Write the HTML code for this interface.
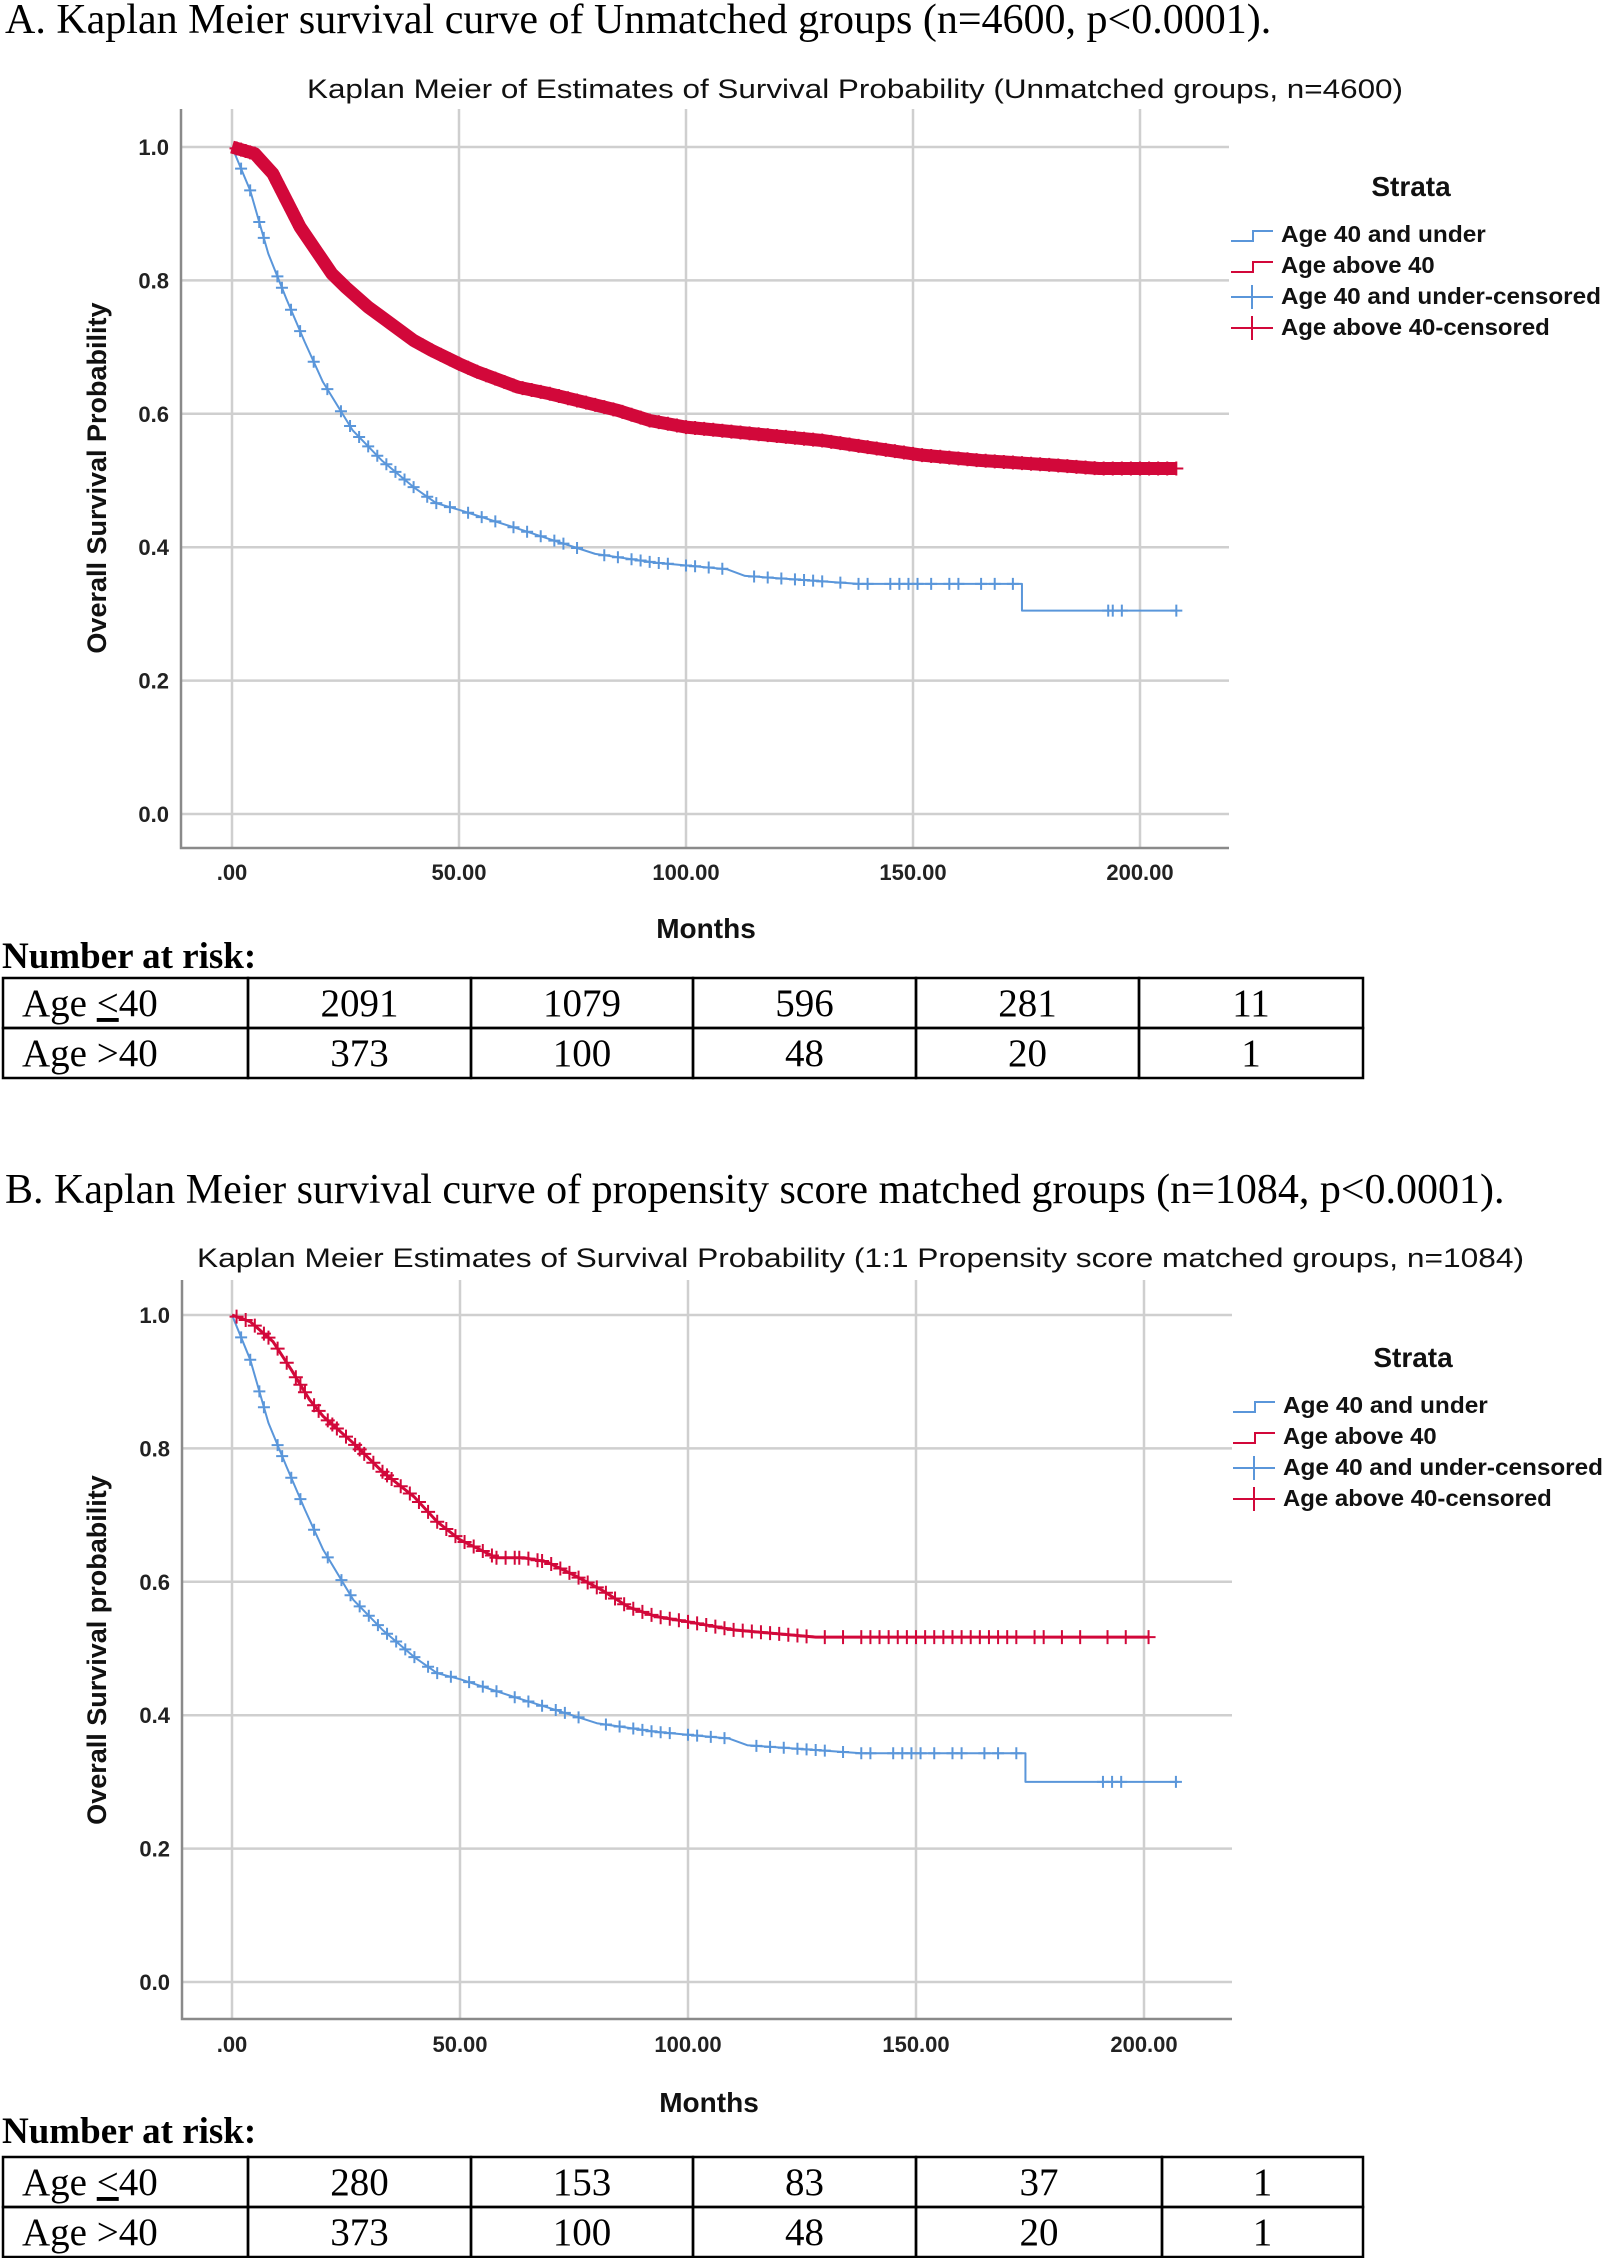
<!DOCTYPE html>
<html><head><meta charset="utf-8"><style>
html,body{margin:0;padding:0;background:#fff;width:1607px;height:2258px;overflow:hidden}
svg{display:block}
.serif{font-family:"Liberation Serif",serif}
.sans{font-family:"Liberation Sans",sans-serif}
</style></head><body>
<svg id="svg" width="1607" height="2258" viewBox="0 0 1607 2258" xmlns="http://www.w3.org/2000/svg">
<text x="5" y="33" class="serif" font-size="42">A. Kaplan Meier survival curve of Unmatched groups (n=4600, p&lt;0.0001).</text>
<text x="5" y="1203" class="serif" font-size="42">B. Kaplan Meier survival curve of propensity score matched groups (n=1084, p&lt;0.0001).</text>
<g id="chartA"></g>
<g id="chartB"></g>
<g id="tables"></g>
</svg>
<script>
const xTicks=[0,50,100,150,200];
const xTickLabels=[".00","50.00","100.00","150.00","200.00"];
const yTicks=[0,0.2,0.4,0.6,0.8,1.0];
const yTickLabels=["0.0","0.2","0.4","0.6","0.8","1.0"];
// Chart A series
const aBlueT=[0,4,8,12,16,20,26.6,33,40,45,50,62,70,80,93,109,113,138,174,174,208];
const aBlueS=[1,0.935,0.84,0.772,0.708,0.648,0.575,0.53,0.49,0.466,0.456,0.43,0.412,0.39,0.377,0.367,0.357,0.345,0.345,0.305,0.305];
const aRedT=[0,5,9,12,15,19,22,25,30,35,40,44,50,54,63,70,76,85,92,100,118,130,140,152,165,181,191,208];
const aRedS=[1,0.99,0.96,0.92,0.88,0.84,0.81,0.79,0.76,0.735,0.71,0.695,0.675,0.663,0.64,0.63,0.62,0.605,0.59,0.58,0.568,0.56,0.55,0.538,0.53,0.523,0.518,0.518];
const aBlueCens=[2,4,6,7,10,11,13,15,18,21,24,26,28,30,32,34,36,38,40,43,45,48,52,55,58,62,65,68,71,73,76,82,85,88,90,92,94,96,100,102,105,108,115,118,121,124,126,128,130,134,138,140,145,147,149,151,154,158,160,165,168,172,193,194,196,208];
const aRedCens=[1,2,3,4,5,6,7,8,9,10,11,12,13,14,15,16,17,18,19,20,22,24,26,28,30,32,34,36,38,40,42,44,46,48,50,52,54,56,58,60,62,64,66,68,70,72,74,76,78,80,82,84,86,88,90,92,94,96,98,100,102,104,106,108,110,112,114,116,118,120,122,124,126,128,130,132,134,136,138,140,142,144,146,148,150,152,154,156,158,160,162,164,166,168,170,172,174,176,178,180,182,184,186,188,190,192,194,196,198,200,202,204,206,208];
// Chart B series
const bBlueT=[0,4,8,12,16,20,26.6,33,40,45,50,62,70,80,93,109,113,138,174,174,207.5];
const bBlueS=[1,0.933,0.838,0.772,0.708,0.648,0.573,0.528,0.487,0.463,0.454,0.427,0.41,0.388,0.375,0.365,0.355,0.343,0.343,0.30,0.30];
const bRedT=[0,4,9,13,17,20,26.6,33,40,45,50,58,64,69,75,81,87,93,100,110,128,201];
const bRedS=[1,0.99,0.96,0.918,0.873,0.848,0.808,0.765,0.727,0.69,0.663,0.636,0.636,0.63,0.61,0.588,0.562,0.548,0.54,0.528,0.517,0.517];
const bBlueCens=[2,4,6,7,10,11,13,15,18,21,24,26,28,30,32,34,36,38,40,43,45,48,52,55,58,62,65,68,71,73,76,82,85,88,90,92,94,96,100,102,105,108,115,118,121,124,126,128,130,134,138,140,145,147,149,151,154,158,160,165,168,172,191,193,195,207];
const bRedCens=[1,3,5,7,8,10,12,14,15,16,18,19,21,22,23,25,27,28,29,31,33,34,35,37,39,41,43,45,47,49,51,53,55,57,58,60,62,63,65,67,68,70,72,74,76,78,80,82,84,86,88,90,92,94,96,98,100,102,104,106,108,110,112,114,116,118,120,122,124,126,130,134,138,140,142,144,146,148,150,152,154,156,158,160,162,164,166,168,170,172,176,178,182,186,192,196,201];
// Risk tables
const riskA1=["2091","1079","596","281","11"];
const riskA2=["373","100","48","20","1"];
const riskB1=["280","153","83","37","1"];
const riskB2=["373","100","48","20","1"];

const NS="http://www.w3.org/2000/svg";
function mk(tag,attrs,parent,text){const e=document.createElementNS(NS,tag);for(const k in attrs)e.setAttribute(k,attrs[k]);if(text!==undefined)e.textContent=text;parent.appendChild(e);return e;}
const BLUE="#5a96da",RED="#d2083a";

function chart(g,cfg){
  const X=t=>cfg.x0+t*cfg.px;
  const Y=s=>cfg.y0-s*(cfg.y0-cfg.y1);
  yTicks.forEach((v,i)=>{
    const l=mk('line',{x1:cfg.left,x2:cfg.right,y1:Y(v),y2:Y(v),stroke:"#cfcfcf","stroke-width":2.5},g);
    
    
    const t=mk('text',{x:cfg.left-12,y:Y(v)+8,"text-anchor":"end","font-size":22,"font-weight":"bold",class:"sans",fill:"#222"},g,yTickLabels[i]);
    
    
  });
  xTicks.forEach((v,i)=>{
    const l=mk('line',{x1:X(v),x2:X(v),y1:cfg.top,y2:cfg.bottom,stroke:"#cfcfcf","stroke-width":2.5},g);
    
    
    const t=mk('text',{x:X(v),y:cfg.xlabY,"text-anchor":"middle","font-size":22,"font-weight":"bold",class:"sans",fill:"#222"},g,xTickLabels[i]);
    
    
  });
  const ax=mk('path',{d:`M${cfg.left},${cfg.top} V${cfg.bottom} H${cfg.right}`,fill:"none",stroke:"#8a8a8a","stroke-width":2.5},g);
  
  
  function linePath(T,S){let d=`M${X(T[0])},${Y(S[0])}`;for(let i=1;i<T.length;i++){d+=` L${X(T[i])},${Y(S[i])}`;}return d;}
  function survAt(T,S,t){for(let i=1;i<T.length;i++){if(t<T[i]){const f=(t-T[i-1])/(T[i]-T[i-1]||1);return S[i-1]+f*(S[i]-S[i-1]);}}return S[S.length-1];}
  function series(T,S,C,col,w,name,ms){
    const p=mk('path',{d:linePath(T,S),fill:"none",stroke:col,"stroke-width":w,"stroke-linejoin":"round"},g);
    
    
    C.forEach(t=>{const x=X(t),y=Y(survAt(T,S,t));
      const m=mk('path',{d:`M${x-ms},${y} H${x+ms} M${x},${y-ms} V${y+ms}`,stroke:col,"stroke-width":2},g);
      
      });
  }
  series(cfg.bT,cfg.bS,cfg.bC,BLUE,2,'age-40-under',6);
  series(cfg.rT,cfg.rS,cfg.rC,RED,cfg.redW,'age-above-40',7);
  const ti=mk('text',{x:cfg.titleX,y:cfg.titleY,"font-size":27,class:"sans",fill:"#111",textLength:cfg.titleLen,lengthAdjust:"spacingAndGlyphs"},g,cfg.title);
  
  
  const yt=mk('text',{x:0,y:0,"font-size":27,"font-weight":"bold",class:"sans",fill:"#111","text-anchor":"middle",transform:`translate(${cfg.ytX},${cfg.ytY}) rotate(-90)`},g,cfg.ytitle);
  
  
  const xt=mk('text',{x:cfg.xtX,y:cfg.xtY,"font-size":28,"font-weight":"bold",class:"sans",fill:"#111","text-anchor":"middle"},g,"Months");
  
  
  const L=cfg.leg;
  const st=mk('text',{x:L.x+180,y:L.y,"font-size":28,"font-weight":"bold",class:"sans","text-anchor":"middle",fill:"#111"},g,"Strata");
  
  
  const entries=[["Age 40 and under",BLUE,0],["Age above 40",RED,0],["Age 40 and under-censored",BLUE,1],["Age above 40-censored",RED,1]];
  entries.forEach((e,i)=>{const y=L.y+45+i*31;
    const gg=mk('g',{},g);
    
    
    if(e[2]===0)mk('path',{d:`M${L.x},${y} H${L.x+22} V${y-10} H${L.x+42}`,fill:"none",stroke:e[1],"stroke-width":2},gg);
    else mk('path',{d:`M${L.x},${y-6} H${L.x+42} M${L.x+21},${y-18} V${y+6}`,fill:"none",stroke:e[1],"stroke-width":2},gg);
    mk('text',{x:L.x+50,y:y+1,"font-size":23,"font-weight":"bold",class:"sans",fill:"#111",textLength:e[0].length*12.8,lengthAdjust:"spacingAndGlyphs"},gg,e[0]);
  });
}
chart(document.getElementById('chartA'),{x0:232,px:4.54,y1:147,y0:814,left:181,right:1229,top:109,bottom:848,xlabY:880,
  bT:aBlueT,bS:aBlueS,bC:aBlueCens,rT:aRedT,rS:aRedS,rC:aRedCens,redW:13,
  title:"Kaplan Meier of Estimates of Survival Probability (Unmatched groups, n=4600)",titleX:307,titleY:98,titleLen:1096,
  ytitle:"Overall Survival Probability",ytX:106,ytY:478,xtX:706,xtY:938,leg:{x:1231,y:196}});
chart(document.getElementById('chartB'),{x0:232,px:4.56,y1:1315,y0:1982,left:182,right:1232,top:1280,bottom:2019,xlabY:2052,
  bT:bBlueT,bS:bBlueS,bC:bBlueCens,rT:bRedT,rS:bRedS,rC:bRedCens,redW:3,
  title:"Kaplan Meier Estimates of Survival Probability (1:1 Propensity score matched groups, n=1084)",titleX:197,titleY:1267,titleLen:1327,
  ytitle:"Overall Survival probability",ytX:106,ytY:1650,xtX:709,xtY:2112,leg:{x:1233,y:1367}});

function table(g,y0,cols,r1,r2,title,ty){
  const t=mk('text',{x:2,y:ty,"font-size":37,"font-weight":"bold",class:"serif",fill:"#000"},g,title);
  
  
  const h=50;
  [r1,r2].forEach((row,ri)=>{
    const y=y0+ri*h;
    for(let c=0;c<cols.length-1;c++){
      const r=mk('rect',{x:cols[c],y:y,width:cols[c+1]-cols[c],height:h,fill:"none",stroke:"#000","stroke-width":2.5},g);
      
      
    }
    const lab=mk('text',{x:22,y:y+38,"font-size":39,class:"serif"},g);
    
    
    if(ri===0){lab.appendChild(document.createTextNode("Age "));mk('tspan',{"text-decoration":"underline"},lab,"<");lab.appendChild(document.createTextNode("40"));}
    else lab.textContent="Age >40";
    row.forEach((v,i)=>{const tx=mk('text',{x:(cols[i+1]+cols[i+2])/2,y:y+38,"font-size":39,class:"serif","text-anchor":"middle"},g,v);
      
      });
  });
}
const tg=document.getElementById('tables');
table(tg,978,[3,248,471,693,916,1139,1363],riskA1,riskA2,"Number at risk:",968);
table(tg,2157,[3,248,471,693,916,1162,1363],riskB1,riskB2,"Number at risk:",2143);
</script>
</body></html>
